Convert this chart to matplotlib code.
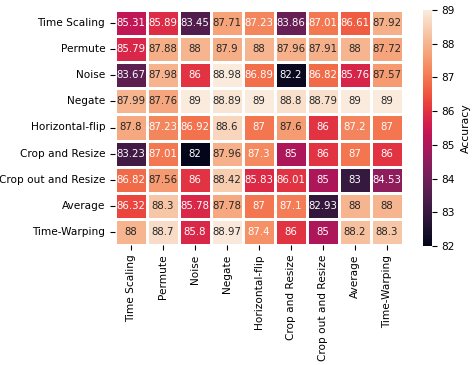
import matplotlib
matplotlib.use('Agg')
import matplotlib.pyplot as plt
import numpy as np
import seaborn as sns

labels = ['Time Scaling', 'Permute', 'Noise', 'Negate', 'Horizontal-flip',
          'Crop and Resize', 'Crop out and Resize', 'Average', 'Time-Warping']

row_time_scaling = [85.31, 85.89, 83.45, 87.71, 87.23, 83.86, 87.01, 86.61, 87.92]
row_permute = [85.79, 87.88, 88, 87.9, 88, 87.96, 87.91, 88, 87.72]
row_noise = [83.67, 87.98, 86, 88.98, 86.89, 82.2, 86.82, 85.76, 87.57]
row_negate = [87.99, 87.76, 89, 88.89, 89, 88.8, 88.79, 89, 89]
row_hflip = [87.8, 87.23, 86.92, 88.6, 87, 87.6, 86, 87.2, 87]
row_crop_resize = [83.23, 87.01, 82, 87.96, 87.3, 85, 86, 87, 86]
row_cropout_resize = [86.82, 87.56, 86, 88.42, 85.83, 86.01, 85, 83, 84.53]
row_average = [86.32, 88.3, 85.78, 87.78, 87, 87.1, 82.93, 88, 88]
row_time_warping = [88, 88.7, 85.8, 88.97, 87.4, 86, 85, 88.2, 88.3]

data = np.array([row_time_scaling, row_permute, row_noise, row_negate, row_hflip,
                 row_crop_resize, row_cropout_resize, row_average, row_time_warping])

fig = plt.figure(figsize=(4.74, 3.65), dpi=100)
ax = fig.add_axes([115/474, 1 - 245/365, 288/474, 235/365])
cax = fig.add_axes([423/474, 1 - 246/365, 9/474, 236/365])

sns.heatmap(data, ax=ax, cbar_ax=cax, cmap='rocket', vmin=82, vmax=89,
            annot=True, fmt='g', annot_kws={'size': 7.3},
            linewidths=1, linecolor='white',
            xticklabels=labels, yticklabels=labels,
            cbar_kws={'label': 'Accuracy'})

ax.tick_params(axis='both', labelsize=7.6)
plt.setp(ax.get_xticklabels(), rotation=90)
plt.setp(ax.get_yticklabels(), rotation=0)
cax.tick_params(labelsize=7.6)
cax.yaxis.label.set_size(7.8)

fig.savefig('out.png', dpi=100)
